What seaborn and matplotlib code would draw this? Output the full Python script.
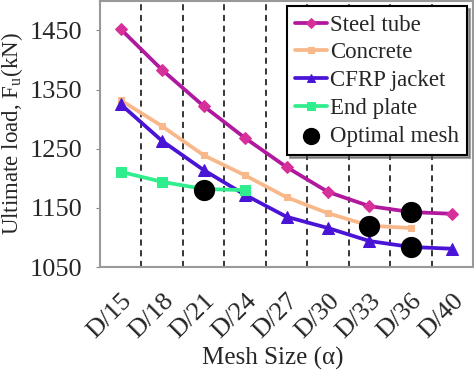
import numpy as np
import pandas as pd
import matplotlib
matplotlib.use('Agg')
import matplotlib.pyplot as plt
import seaborn as sns

mesh = ['D/15', 'D/18', 'D/21', 'D/24', 'D/27', 'D/30', 'D/33', 'D/36', 'D/40']
steel_tube = [1452, 1383, 1322, 1268, 1219, 1177, 1153, 1143, 1140]
concrete = [1332, 1288, 1239, 1205, 1168, 1141, 1120, 1116]
cfrp = [1325, 1263, 1214, 1172, 1135, 1116, 1094, 1084, 1081]
end_plate = [1211, 1194, 1182, 1180]
opt_x = ['D/21', 'D/33', 'D/36', 'D/36']
opt_y = [1180, 1120, 1143, 1084]

sns.set_style('white')
plt.rcParams['font.family'] = ['Liberation Serif', 'DejaVu Serif']
plt.rcParams['mathtext.fontset'] = 'stix'

fig = plt.figure(figsize=(4.74, 3.72), dpi=100)
ax = fig.add_axes([0.211, 0.282, 0.787, 0.716])

pos = {m: i for i, m in enumerate(mesh)}

# dashed grid between categories
for i in range(len(mesh) - 1):
    ax.axvline(i + 0.5, color='black', ls=(0, (4, 3)), lw=1.1, zorder=1)

series = [
    ('Steel tube', steel_tube, '#B0189E', '#D8309A', 'D', 6),
    ('Concrete', concrete, '#F8B88A', '#F8B88A', 's', 5),
    ('CFRP jacket', cfrp, '#4A14D6', '#4A14D6', '^', 8),
    ('End plate', end_plate, '#30EE8E', '#30EE8E', 's', 7),
]
for name, vals, lc, mc, mk, ms in series:
    df = pd.DataFrame({'x': np.arange(len(vals)), 'y': vals})
    sns.lineplot(data=df, x='x', y='y', ax=ax, color=lc, lw=2.7, marker=mk,
                 markersize=ms, markerfacecolor=mc, markeredgecolor=mc,
                 label=name, zorder=3)

opt = pd.DataFrame({'x': [pos[m] for m in opt_x], 'y': opt_y})
sns.scatterplot(data=opt, x='x', y='y', ax=ax, color='black', s=200,
                edgecolor='black', label='Optimal mesh', zorder=5)

ax.set_xlim(-0.5, len(mesh) - 0.5)
ax.set_ylim(1050, 1500)
ax.set_yticks([1050, 1150, 1250, 1350, 1450])
ax.set_xticks(range(len(mesh)))
ax.set_xticklabels(mesh, rotation=45, ha='right', va='top', rotation_mode='anchor')
ax.tick_params(axis='y', labelsize=19, length=3, direction='out', left=True,
               color='#888888', pad=10)
ax.tick_params(axis='x', labelsize=19, length=0, pad=16)
ax.set_xlabel('Mesh Size (α)', fontsize=18)
ax.xaxis.set_label_coords(0.464, -0.3)
ax.set_ylabel('Ultimate load, F$_\\mathregular{u}$(kN)', fontsize=16.5)
ax.yaxis.set_label_coords(-0.2, 0.5)
for s in ax.spines.values():
    s.set_color('#999999')
    s.set_linewidth(1.5)

leg = ax.legend(loc='upper right', fontsize=16.5, frameon=True, fancybox=False,
                shadow=True, handlelength=1.4, handletextpad=0.15,
                borderpad=0.35, labelspacing=0.3, borderaxespad=0.25,
                markerscale=0.8)
leg.get_frame().set_edgecolor('black')
leg.get_frame().set_linewidth(1.5)

fig.savefig('out.png', dpi=100)
